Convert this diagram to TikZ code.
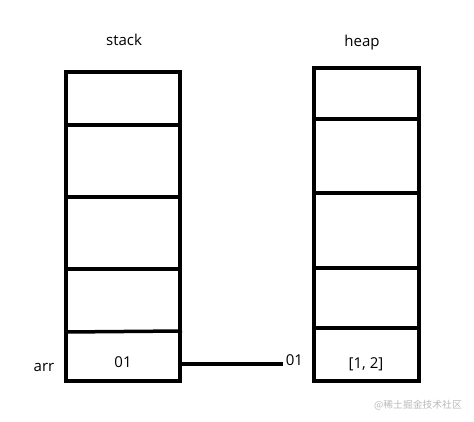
\documentclass[tikz,border=0pt]{standalone}
\usepackage{fontspec}
\setmainfont{Open Sans}
\newfontfamily\cjk{Noto Sans CJK SC}
\usepackage{tikz}
\usetikzlibrary{calc}

\begin{document}
\begin{tikzpicture}[x=1pt,y=-1pt,line width=3.5pt,
    lbl/.style={font=\fontsize{15}{17}\selectfont}]
    \useasboundingbox (0,0) rectangle (474,422);
    % stack
    \draw (66,72) rectangle (180,381);
    \draw (66,125) -- (182,125);
    \draw (66,197) -- (182,197);
    \draw (66,269) -- (182,269);
    \draw (66,332) -- (182,331);
    % heap
    \draw (314,68) rectangle (419,381);
    \draw (314,119) -- (421,119);
    \draw (314,193) -- (421,193);
    \draw (314,268) -- (421,268);
    \draw (314,328) -- (421,328);
    \node[lbl] (stack) at (124,40) {stack};
    \node[lbl] (heap) at (362,43) {heap};
    \node[lbl] (arr) at (44,367) {arr};
    \node[lbl] (val) at (123,362) {01};
    \node[lbl] (arrval) at (366,364) {[1, 2]};
    % reference
    \coordinate (out) at (180,364);
    \node[lbl,anchor=west,inner sep=1pt] (addr) at (283,360) {01};
    \draw (out) -- (out -| addr.west);
    % \node at (420,405) {};
    \node[text=gray!55,font=\cjk\fontsize{9.8}{11}\selectfont] (mark) at (418,405) {@稀土掘金技术社区};
\end{tikzpicture}
\end{document}
